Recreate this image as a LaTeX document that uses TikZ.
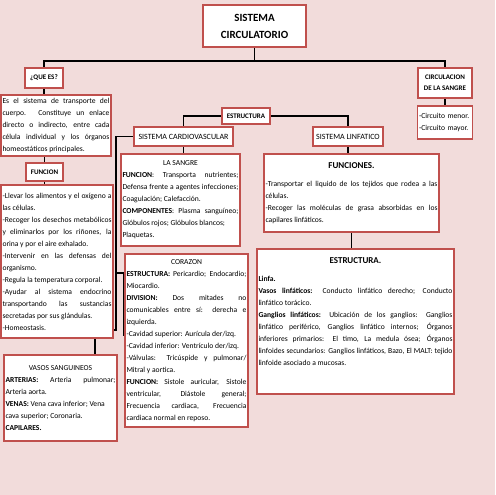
\documentclass[tikz,border=0pt]{standalone}
\usepackage{fontspec}
\setmainfont{Carlito}
\usepackage{tikz}
\pgfdeclarelayer{bg}
\pgfsetlayers{bg,main}
\definecolor{bgpink}{HTML}{F2DCDB}
\definecolor{boxred}{HTML}{C0504D}
\newcommand{\bodyfont}{\fontsize{7.6}{12}\selectfont}
\newcommand{\headfont}{\bfseries\fontsize{7}{11}\selectfont}
\newcommand{\bigfont}{\bfseries\fontsize{9}{12}\selectfont}
\hyphenpenalty=10000
\exhyphenpenalty=10000
\tolerance=10000
\hbadness=10000
\tikzset{
    every node/.style={rectangle, draw=boxred, fill=white, line width=1.4pt, inner sep=1.5pt, font=\bodyfont}
}
\tikzset{hdr/.style={font=\headfont, align=center, inner sep=1pt}}
\tikzset{txt/.style={align=justify}}
\tikzset{link/.style={line width=1.6pt}}

\begin{document}
\begin{tikzpicture}[x=1pt, y=-1pt]
        \useasboundingbox (0,0) rectangle (495,495);
        \node (title) [font=\bfseries\fontsize{11}{17}\selectfont, align=center, minimum width=103pt, minimum height=42pt] at (254.5, 26) {SISTEMA\\CIRCULATORIO};
        \node (queEs) [hdr, minimum width=38pt, minimum height=20pt] at (44, 78) {¿QUE ES?};
        \node (queEsText) [txt, text width=107pt, minimum height=61pt] at (56, 125.5) {Es el sistema de transporte del\linebreak cuerpo. Constituye un enlace\linebreak directo o indirecto, entre cada\linebreak célula individual y los órganos\linebreak homeostáticos principales.};
        \node (funcion) [hdr, minimum width=37pt, minimum height=18pt] at (44.5, 172) {FUNCION};
        \node (funcionText) [txt, text width=109pt, minimum height=153pt] at (57, 261.5) {-Llevar los alimentos y el oxígeno a\linebreak las células.\par
-Recoger los desechos metabólicos\linebreak y eliminarlos por los riñones, la\linebreak orina y por el aire exhalado.\par
-Intervenir en las defensas del\linebreak organismo.\par
-Regula la temperatura corporal.\par
-Ayudar al sistema endocrino\linebreak transportando las sustancias\linebreak secretadas por sus glándulas.\par
-Homeostasis.};
        \node (estructura) [hdr, minimum width=48pt, minimum height=16pt] at (246, 116) {ESTRUCTURA};
        \node (cardio) [font=\fontsize{8}{9}\selectfont, minimum width=99pt, minimum height=19pt] at (183.5, 136.5) {SISTEMA CARDIOVASCULAR};
        \node (sangre) [txt, text width=116pt, minimum height=92pt] at (180.5, 200) {{\centering LA SANGRE\par}
\textbf{FUNCION}: Transporta nutrientes;\linebreak Defensa frente a agentes infecciones;\linebreak Coagulación; Calefacción.\par
\textbf{COMPONENTES}: Plasma sanguíneo;\linebreak Glóbulos rojos; Glóbulos blancos;\newline Plaquetas.};
        \node (corazon) [txt, text width=120pt, minimum height=173pt] at (186.5, 340.5) {{\centering CORAZON\par}
\textbf{ESTRUCTURA:} Pericardio; Endocardio;\linebreak Miocardio.\par
\textbf{DIVISION:} Dos mitades no\linebreak comunicables entre sí: derecha e\linebreak izquierda.\par
-Cavidad superior: Aurícula der/izq.\par
-Cavidad inferior: Ventrículo der/izq.\par
-Válvulas: Tricúspide y pulmonar/\linebreak Mitral y aortica.\par
\textbf{FUNCION:} Sistole auricular, Sistole\linebreak ventricular, Diástole general;\linebreak Frecuencia cardiaca, Frecuencia\linebreak cardiaca normal en reposo.};
        \node (vasos) [txt, text width=110pt, minimum height=86pt] at (60.5, 398) {{\centering VASOS SANGUINEOS\par}
\textbf{ARTERIAS:} Arteria pulmonar;\linebreak Arteria aorta.\par
\textbf{VENAS:} Vena cava inferior; Vena\newline cava superior; Coronaria.\par
\textbf{CAPILARES.}};
        \node (linfatico) [font=\fontsize{8}{9}\selectfont, minimum width=70pt, minimum height=19pt] at (348, 136.5) {SISTEMA LINFATICO};
        \node (funciones) [txt, text width=172pt, minimum height=78pt] at (351.5, 193) {{\centering\bigfont FUNCIONES.\par}\vspace{6pt}
-Transportar el liquido de los tejidos que rodea a las\linebreak células.\par
-Recoger las moléculas de grasa absorbidas en los\linebreak capilares linfáticos.};
        \node (estrLinf) [txt, text width=194pt, minimum height=145pt] at (355.5, 321.5) {{\centering\bigfont ESTRUCTURA.\par}\vspace{6pt}
\textbf{Linfa.}\par
\textbf{Vasos linfáticos:} Conducto linfático derecho; Conducto\linebreak linfático torácico.\par
\textbf{Ganglios linfáticos:} Ubicación de los ganglios: Ganglios\linebreak linfático periférico, Ganglios linfático internos; Órganos\linebreak inferiores primarios: El timo, La medula ósea; Órganos\linebreak linfoides secundarios: Ganglios linfáticos, Bazo, El MALT: tejido\linebreak linfoide asociado a mucosas.\par\rule{0pt}{18pt}};
        \node (circulacion) [hdr, minimum width=54pt, minimum height=30pt] at (445, 83) {CIRCULACION\\DE LA SANGRE};
        \node (circuitos) [align=left, text width=52pt, minimum height=33pt] at (445, 122.5) {-Circuito menor.\\-Circuito mayor.};
        \coordinate (rail) at (0, 61);
        \coordinate (trunk) at (116, 330);
        \coordinate (drop) at (95, 330);
        \coordinate (tick) at (116, 273);
        \coordinate (brTop) at (123, 273);
        \coordinate (brEnd) at (123, 335);
        \begin{pgfonlayer}{bg}
                \fill [bgpink] (0,0) rectangle (495,495);
                \draw [link] (title) -- (title |- rail);
                \draw [link] (queEs.north) -- (queEs.north |- rail) -| (circulacion.north);
                \draw [link] (circulacion) -- (circuitos);
                \draw [link] (queEs) -- (queEs |- queEsText.north);
                \draw [link] (funcion |- queEsText.south) -- (funcion);
                \draw [link] (funcion) -- (funcion |- funcionText.north);
                \draw [link] (estructura.west) -| (cardio.north);
                \draw [link] (estructura.east) -| (linfatico.north);
                \draw [link] (cardio) -- (cardio |- sangre.north);
                \draw [link] (cardio.west) -| (trunk) -- (drop) -- (drop |- vasos.north);
                \draw [link] (tick) -- (tick -| corazon.west);
                \draw [thin] (brTop) -- (brEnd) -- ++(3,0);
                \draw [link] (linfatico) -- (linfatico |- funciones.north);
                \draw [link] (funciones) -- (funciones |- estrLinf.north);
        \end{pgfonlayer}
\end{tikzpicture}
\end{document}
